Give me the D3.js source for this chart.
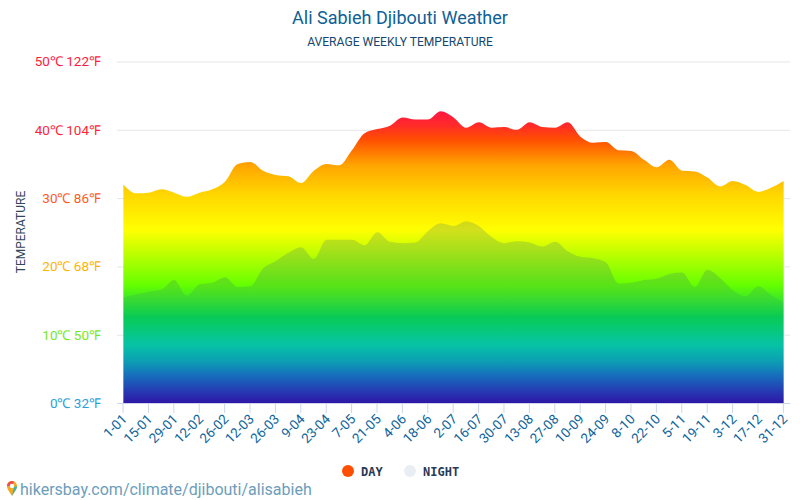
<!DOCTYPE html>
<html>
<head>
<meta charset="utf-8">
<script src="https://cdn.jsdelivr.net/npm/d3@7"></script>
<style>
  html, body { margin: 0; padding: 0; background: #fff; }
  text { font-family: Roboto, sans-serif; }
</style>
</head>
<body>
<svg id="chart" width="800" height="500"></svg>
<script>
var weeks = ["1-01","8-01","15-01","22-01","29-01","5-02","12-02","19-02","26-02","5-03","12-03","19-03","26-03","2-04","9-04","16-04","23-04","30-04","7-05","14-05","21-05","28-05","4-06","11-06","18-06","25-06","2-07","9-07","16-07","23-07","30-07","6-08","13-08","20-08","27-08","3-09","10-09","17-09","24-09","1-10","8-10","15-10","22-10","29-10","5-11","12-11","19-11","26-11","3-12","10-12","17-12","24-12","31-12"];
var dayTemps = [32.0,30.7,30.8,31.3,30.8,30.2,30.8,31.3,32.4,35.0,35.3,34.0,33.4,33.2,32.2,34.0,35.0,34.8,37.0,39.5,40.1,40.6,41.8,41.5,41.5,42.7,41.8,40.3,41.1,40.3,40.4,40.0,41.1,40.4,40.3,41.1,39.0,38.1,38.2,37.0,36.9,35.6,34.5,35.6,34.0,33.9,33.0,31.7,32.5,31.9,30.9,31.5,32.5];
var nightTemps = [15.5,15.9,16.3,16.6,18.0,15.7,17.4,17.6,18.4,17.0,17.1,19.7,20.8,22.0,22.8,21.1,23.9,23.9,23.9,23.1,25.0,23.6,23.4,23.5,25.2,26.3,25.9,26.6,25.9,24.3,23.4,23.7,23.5,22.9,23.6,22.2,21.4,21.2,20.6,17.5,17.6,18.0,18.2,18.9,19.1,17.0,19.5,18.3,16.5,15.6,17.1,15.8,14.7];
var yTicks = [0,10,20,30,40,50];
var yTickLabels = ["0℃ 32℉","10℃ 50℉","20℃ 68℉","30℃ 86℉","40℃ 104℉","50℃ 122℉"];
var yTickColors = ["#2b9fdc","#78e81c","#ffb400","#ff5a1e","#ff2436","#ff1a40"];
var dayStops = [[0,"#2f16a6"],[2,"#2340b4"],[4.1,"#1670bc"],[6,"#0c9cb4"],[8.5,"#06c3a6"],[12.6,"#08cc55"],[17.3,"#66ff00"],[22.4,"#c8ff00"],[25.3,"#ffff00"],[30.5,"#ffd700"],[34.8,"#ffa500"],[38.5,"#ff5000"],[40.7,"#ff2a2a"],[42.7,"#ff1744"]];

var svg = d3.select("#chart");
var x = d3.scalePoint().domain(weeks).range([117, 790]).padding(0.5);
var y = d3.scaleLinear().domain([0, 50]).range([403, 61.5]);
var defs = svg.append("defs");

var grad = defs.append("linearGradient").attr("id", "dayFill")
  .attr("gradientUnits", "userSpaceOnUse")
  .attr("x1", 0).attr("x2", 0).attr("y1", y(0)).attr("y2", y(42.7));
grad.selectAll("stop").data(dayStops).enter().append("stop")
  .attr("offset", function (d) { return d[0] / 42.7; })
  .attr("stop-color", function (d) { return d[1]; });

// night overlay only shows in the upper part, fades out in the green
var nightGrad = defs.append("linearGradient").attr("id", "nightFill")
  .attr("gradientUnits", "userSpaceOnUse")
  .attr("x1", 0).attr("x2", 0).attr("y1", y(27)).attr("y2", y(12));
nightGrad.append("stop").attr("offset", 0).attr("stop-color", "#1f6482").attr("stop-opacity", 0.2);
nightGrad.append("stop").attr("offset", 0.6).attr("stop-color", "#1f6482").attr("stop-opacity", 0.2);
nightGrad.append("stop").attr("offset", 1).attr("stop-color", "#1f6482").attr("stop-opacity", 0);

// grid and y labels
var yAxis = d3.axisLeft(y).tickValues(yTicks).tickSize(-673).tickSizeOuter(0).tickPadding(16)
  .tickFormat(function (d, i) { return yTickLabels[i]; });
var gy = svg.append("g").attr("transform", "translate(117,0)").call(yAxis);
gy.select(".domain").remove();
gy.selectAll(".tick line").attr("stroke", "#e6e6e6");
gy.selectAll(".tick text")
  .style("font-size", "13.5px")
  .attr("y", 0)
  .attr("fill", function (d, i) { return yTickColors[i]; });

var area = function (vals) {
  return d3.area()
    .x(function (d, i) { return x(weeks[i]); })
    .y0(y(0))
    .y1(function (d) { return y(d); })
    .curve(d3.curveMonotoneX)(vals);
};
svg.append("path").attr("d", area(dayTemps)).attr("fill", "url(#dayFill)");
svg.append("path").attr("d", area(nightTemps)).attr("fill", "url(#nightFill)");

// x axis, every second week gets a label
var xAxis = d3.axisBottom(x)
  .tickValues(weeks.filter(function (d, i) { return i % 2 === 0; }))
  .tickSize(10).tickSizeOuter(0).tickPadding(3);
var gx = svg.append("g").attr("transform", "translate(0,403)").call(xAxis);
gx.select(".domain").attr("stroke", "#ccd6eb");
gx.selectAll(".tick line").attr("stroke", "#ccd6eb").attr("transform", "translate(-0.8,0)");
gx.selectAll(".tick text")
  .style("font-size", "13.5px")
  .attr("fill", "#0f659c")
  .attr("text-anchor", "end")
  .attr("dy", null)
  .attr("transform", "translate(4,17) rotate(-45)")
  .attr("x", 0).attr("y", 0);

// titles
svg.append("text").attr("x", 400).attr("y", 24).attr("text-anchor", "middle")
  .style("font-size", "18px").attr("fill", "#0f5f96").text("Ali Sabieh Djibouti Weather");
svg.append("text").attr("x", 400).attr("y", 46).attr("text-anchor", "middle")
  .style("font-size", "12.1px").attr("fill", "#14466f").text("AVERAGE WEEKLY TEMPERATURE");
svg.append("text").attr("transform", "translate(25,232) rotate(-90)").attr("text-anchor", "middle")
  .style("font-size", "12px").attr("fill", "#33475b").text("TEMPERATURE");

// legend
svg.append("circle").attr("cx", 348).attr("cy", 471).attr("r", 6).attr("fill", "#ff4e00");
svg.append("text").attr("x", 361).attr("y", 475.5).style("font-family", "'DejaVu Sans Mono'")
  .style("font-size", "12px").style("font-weight", "bold").attr("fill", "#2b3a55").text("DAY");
svg.append("circle").attr("cx", 410).attr("cy", 471).attr("r", 6).attr("fill", "#e9eef4");
svg.append("text").attr("x", 423).attr("y", 475.5).style("font-family", "'DejaVu Sans Mono'")
  .style("font-size", "12px").style("font-weight", "bold").attr("fill", "#2b3a55").text("NIGHT");

// footer with pin
var pin = svg.append("g").attr("transform", "translate(12,487)");
pin.append("path").attr("d", "M0,9 C-3,4 -5,2 -5,-1 A5,5 0 0 1 5,-1 C5,2 3,4 0,9 Z").attr("fill", "#f5a623");
pin.append("path").attr("d", "M-5,-1 A5,5 0 0 1 2,-5.6 L0,-1 Z").attr("fill", "#ef4e4e");
pin.append("path").attr("d", "M0,9 C3,4 5,2 5,-1 L2,0 Z").attr("fill", "#3fb5a8");
pin.append("circle").attr("cx", 0).attr("cy", -1).attr("r", 2.2).attr("fill", "#fff");
svg.append("text").attr("x", 20).attr("y", 495).style("font-size", "16px")
  .attr("fill", "#6c9dba").text("hikersbay.com/climate/djibouti/alisabieh");
</script>
</body>
</html>
